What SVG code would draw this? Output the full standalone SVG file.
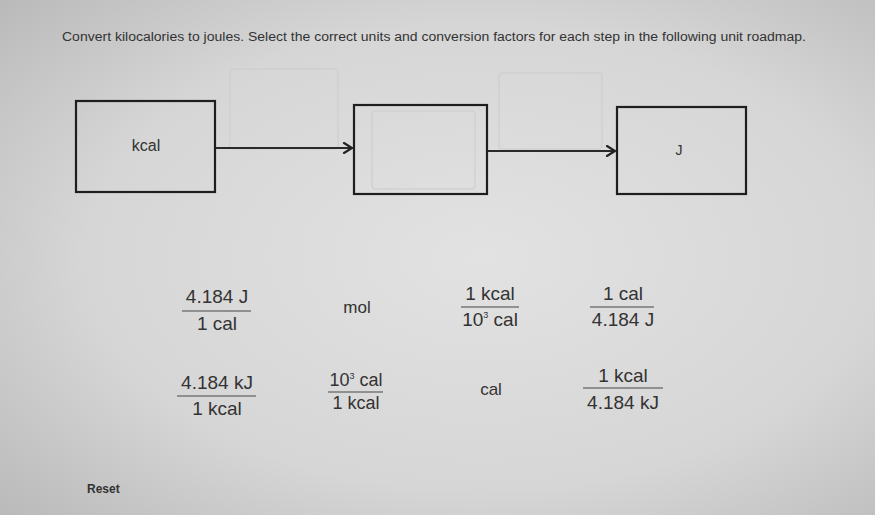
<svg xmlns="http://www.w3.org/2000/svg" width="875" height="515" viewBox="0 0 875 515">
  <defs>
    <radialGradient id="bg" cx="0.55" cy="0.5" r="0.75">
      <stop offset="0" stop-color="#e2e2e2"/>
      <stop offset="0.6" stop-color="#d6d6d6"/>
      <stop offset="1" stop-color="#b9b9b9"/>
    </radialGradient>
    <marker id="arr" markerWidth="12" markerHeight="12" refX="10" refY="6" orient="auto" markerUnits="userSpaceOnUse">
      <path d="M2,1 L10,6 L2,11" fill="none" stroke="#222" stroke-width="2.2" stroke-linecap="round"/>
    </marker>
    <style>
      text { font-family: "Liberation Sans", Arial, sans-serif; fill: #333; }
      .box { fill: none; stroke: #1e1e1e; stroke-width: 2.2; }
      .slot { fill: none; stroke: #cbcbcb; stroke-width: 1; }
      .conn { stroke: #2a2a2a; stroke-width: 2; fill: none; }
      .lbl { text-anchor: middle; }
      .frac { font-size: 19px; text-anchor: middle; }
      .fs { font-size: 18px; text-anchor: middle; }
      .unit { font-size: 17px; text-anchor: middle; }
      .bar { stroke: #777; stroke-width: 1.5; }
    </style>
  </defs>
  <rect width="875" height="515" fill="url(#bg)"/>

  <text x="62" y="41" font-size="12.5" textLength="744" lengthAdjust="spacingAndGlyphs">Convert kilocalories to joules.  Select the correct units and conversion factors for each step in the following unit roadmap.</text>

  <rect class="slot" x="230" y="69" width="108" height="80" rx="3"/>
  <rect class="slot" x="499" y="73" width="103" height="76" rx="3"/>

  <g id="connectors">
    <line class="conn" x1="215" y1="148" x2="352" y2="148" marker-end="url(#arr)"/>
    <line class="conn" x1="487" y1="151" x2="615" y2="151" marker-end="url(#arr)"/>
  </g>

  <g id="node-kcal">
    <rect class="box" x="76" y="101" width="139" height="91"/>
    <text class="lbl" x="146" y="151" font-size="16">kcal</text>
  </g>
  <g id="node-blank">
    <rect class="box" x="354" y="105" width="133" height="89"/>
    <rect class="slot" x="372" y="111" width="103" height="78" rx="3"/>
  </g>
  <g id="node-J">
    <rect class="box" x="617" y="107" width="129" height="87"/>
    <text class="lbl" x="679" y="155" font-size="14">J</text>
  </g>

  <g id="opt-4184J-cal">
    <text class="frac" x="217" y="303">4.184 J</text>
    <line class="bar" x1="182" y1="311" x2="251" y2="311"/>
    <text class="frac" x="217" y="330">1 cal</text>
  </g>
  <g id="opt-mol">
    <text class="unit" x="357" y="313">mol</text>
  </g>
  <g id="opt-kcal-103cal">
    <text class="frac" x="490" y="300">1 kcal</text>
    <line class="bar" x1="461" y1="307" x2="519" y2="307"/>
    <text class="frac" x="490" y="326">10<tspan font-size="9" dy="-8">3</tspan><tspan dy="8"> cal</tspan></text>
  </g>
  <g id="opt-cal-4184J">
    <text class="frac" x="623" y="300">1 cal</text>
    <line class="bar" x1="590" y1="307" x2="654" y2="307"/>
    <text class="frac" x="623" y="326">4.184 J</text>
  </g>
  <g id="opt-4184kJ-kcal">
    <text class="frac" x="217" y="389">4.184 kJ</text>
    <line class="bar" x1="177" y1="396" x2="256" y2="396"/>
    <text class="frac" x="217" y="415">1 kcal</text>
  </g>
  <g id="opt-103cal-kcal">
    <text class="fs" x="356" y="386">10<tspan font-size="9" dy="-7">3</tspan><tspan dy="7"> cal</tspan></text>
    <line class="bar" x1="328" y1="392" x2="383" y2="392"/>
    <text class="fs" x="356" y="409">1 kcal</text>
  </g>
  <g id="opt-cal">
    <text class="unit" x="491" y="395">cal</text>
  </g>
  <g id="opt-kcal-4184kJ">
    <text class="frac" x="623" y="382">1 kcal</text>
    <line class="bar" x1="583" y1="388" x2="663" y2="388"/>
    <text class="frac" x="623" y="409">4.184 kJ</text>
  </g>

  <text x="87" y="493" font-size="12" font-weight="bold" fill="#222">Reset</text>
</svg>
